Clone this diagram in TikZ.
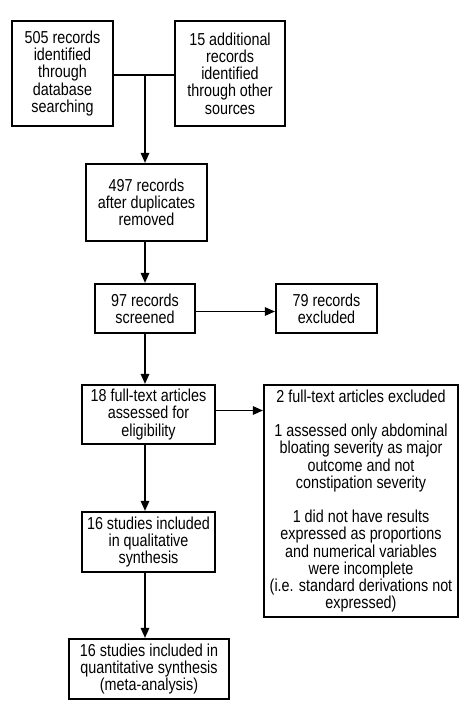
\documentclass[tikz,border=0pt]{standalone}
\usepackage{fontspec}
\setmainfont[FakeStretch=0.83]{Liberation Sans}
\usetikzlibrary{arrows.meta}
\tikzset{
  box/.style={draw=black, line width=2.2pt, align=center, inner sep=0pt,
    font=\fontsize{17.3}{17.2}\selectfont},
  conn/.style={line width=1.4pt},
  arr/.style={conn, -{Triangle[length=10pt,width=8.5pt]}}
}
\begin{document}
\begin{tikzpicture}[x=1pt,y=1pt]
\useasboundingbox (0,0) rectangle (474,-718);
\node[box, minimum width=101pt, minimum height=105pt] (A) at (62.5,-73.5) {505 records\\identified\\through\\database\\searching};
\node[box, minimum width=110pt, minimum height=105pt] (B) at (230,-73.5) {15 additional\\records\\identified\\through other\\sources};
\node[box, minimum width=121pt, minimum height=77pt] (C) at (146.5,-202.5) {497 records\\after duplicates\\removed};
\node[box, minimum width=100pt, minimum height=49pt] (D) at (145,-308.5) {97 records\\screened};
\node[box, minimum width=101pt, minimum height=49pt] (E) at (326.5,-308.5) {79 records\\excluded};
\node[box, minimum width=133pt, minimum height=59pt] (F) at (148.5,-414.5) {18 full-text articles\\assessed for\\eligibility};
\node[box, minimum width=194pt, minimum height=232pt] (G) at (361,-501) {2 full-text articles excluded\\[17.2pt]1 assessed only abdominal\\bloating severity as major\\outcome and not\\constipation severity\\[17.2pt]1 did not have results\\expressed as proportions\\and numerical variables\\were incomplete\\(i.e. standard derivations not\\expressed)};
\node[box, minimum width=133pt, minimum height=60pt] (H) at (148.5,-542) {16 studies included\\in qualitative\\synthesis};
\node[box, minimum width=160pt, minimum height=60pt] (I) at (149,-669) {16 studies included in\\quantitative synthesis\\(meta-analysis)};
\coordinate (j) at (145,-75);
\draw[conn] (A.east |- j) -- (B.west |- j);
\draw[arr] (j) -- (j |- C.north);
\draw[arr] (C.south -| D.north) -- (D.north);
\draw[arr] ([yshift=-3pt]D.east) -- ([yshift=-3pt]D.east -| E.west);
\draw[arr] ([yshift=4pt]F.east) -- ([yshift=4pt]F.east -| G.west);
\draw[arr] (D.south) -- (D.south |- F.north);
\draw[arr] (F.south -| D.south) -- (D.south |- H.north);
\draw[arr] (H.south -| D.south) -- (D.south |- I.north);
\end{tikzpicture}
\end{document}
